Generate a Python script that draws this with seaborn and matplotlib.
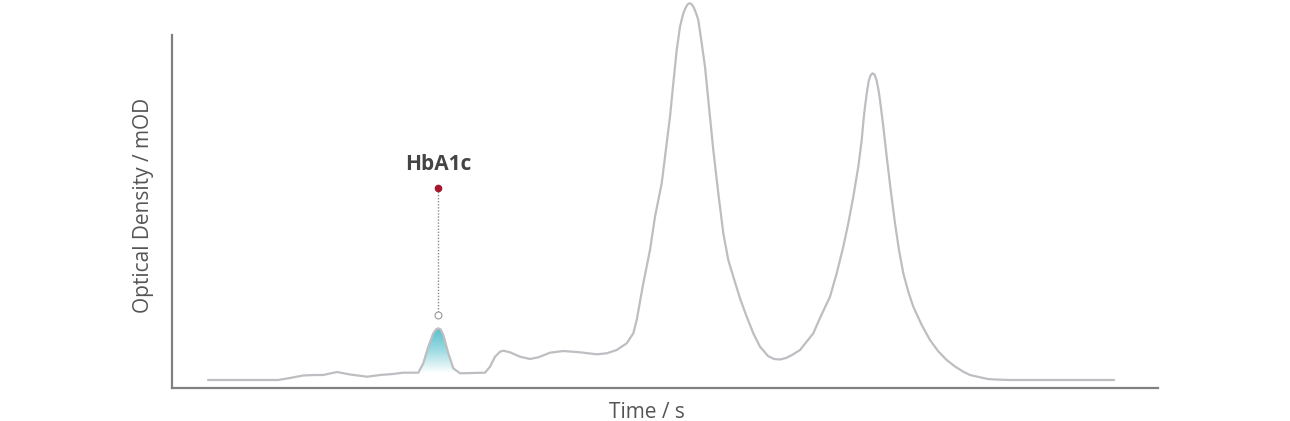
import numpy as np
import pandas as pd
import matplotlib
matplotlib.use("Agg")
import matplotlib.pyplot as plt
from matplotlib.colors import LinearSegmentedColormap
import seaborn as sns

# ── Données : chromatogramme (temps arbitraire, densité optique en mOD) ──
time = [208, 240, 278, 290, 303, 315, 323, 337, 350, 367, 380, 393, 403, 410,
        418.3, 423.3, 428.3, 433.3, 436, 438.3, 440.7, 443.3, 448.3, 453.3, 460,
        472, 485, 490, 495, 500, 503.3, 510, 520, 530, 538.3, 550, 563.3, 580,
        596.7, 606.7, 616.7, 626.7, 633.3, 636.7, 643.3, 650, 655, 661.7,
        666.7, 670, 673.3, 676.7, 680, 683.3, 685.5, 687.5, 689.5, 691.5,
        693.5, 696, 698.3, 701.7, 705, 709.3, 713.3, 718.3, 723.3, 728.3,
        733.3, 740, 746.7, 753.3, 760, 768, 774, 780, 786, 792, 800,
        813.3, 820, 830, 836.7, 843.3, 848.3, 853.3, 858.3, 861.7, 864,
        866.5, 868.5, 870.5, 872.5, 874.5, 876.5, 878.5, 880, 883.3, 886.7,
        890.7, 895, 899, 903.3, 908.3, 913.3, 921.7, 930, 938, 946.7,
        955, 963.3, 970, 980, 988, 995, 1010, 1114]
od = [8, 8, 8, 10, 12.5, 13, 13, 16, 13.5, 11.3, 13, 14, 15.3, 15.3,
      15.3, 24.7, 41.3, 54.7, 58.5, 59.7, 58.5, 53, 34.7, 19.7, 14.7,
      15, 15.3, 21.3, 31.3, 36.3, 37.3, 35.7, 31.3, 29, 30.7, 35.3, 37, 35.7,
      33.7, 34.7, 38, 44.7, 54.7, 68, 104.7, 138, 171.3, 204.7,
      244.7, 271.3, 304.7, 338, 361.3, 374.7, 380, 383.5, 384.7, 384,
      381, 375, 368, 344.7, 321.3, 278, 238, 194.7, 154.7, 128,
      111.3, 89.7, 71.3, 54.7, 41.3, 32, 29, 28.5, 30, 33, 38,
      54.7, 70, 91.3, 114.7, 141.3, 164.7, 191.3, 221.3, 248, 273,
      293, 306, 312.5, 314.7, 313.5, 308, 298, 288, 261.3, 231.3,
      198, 164.7, 138, 114.7, 96.3, 81.3, 63, 48, 37, 28,
      21.5, 16.3, 13, 10.7, 9, 8.5, 8, 8]

peak_name = "HbA1c"
peak_time = 438.3
peak_od = 59.7
label_od = 200        # position du point rouge
anchor_od = 73        # petit cercle au-dessus du pic
fill_start, fill_end = 418.3, 460

df = pd.DataFrame({"time": time, "od": od})

# ── Style ───────────────────────────────────────────────────
sns.set_style("white")
plt.rcParams["font.family"] = ["Open Sans", "DejaVu Sans"]

LINE_C = "#bdbec1"
AXIS_C = "#808080"
TEXT_C = "#555555"

fig = plt.figure(figsize=(12.9, 4.21), dpi=100)
ax = fig.add_axes([172 / 1290, 33 / 421, 986 / 1290, 388 / 421])

sns.lineplot(data=df, x="time", y="od", ax=ax, color=LINE_C, linewidth=1.6,
             sort=False, zorder=3)

# Remplissage en dégradé sous le pic HbA1c
sub = df[(df["time"] >= fill_start) & (df["time"] <= fill_end)]
poly = ax.fill_between(sub["time"], sub["od"], sub["od"].min(), color="none",
                       linewidth=0)
cmap = LinearSegmentedColormap.from_list("teal", ["#ffffff", "#9fdbe2", "#55c0cc"])
grad = np.linspace(0, 1, 256).reshape(-1, 1)
img = ax.imshow(grad, cmap=cmap, aspect="auto", origin="lower",
                extent=[fill_start, fill_end, sub["od"].min(), peak_od],
                zorder=2)
img.set_clip_path(poly.get_paths()[0], transform=ax.transData)

# Annotation HbA1c
ax.plot([peak_time, peak_time], [anchor_od, label_od], color="#8a8a8a",
        linestyle=(0, (1, 1.2)), linewidth=1, zorder=4)
ax.plot(peak_time, label_od, "o", color="#a5172d", markersize=4.5, zorder=5)
ax.plot(peak_time, anchor_od, "o", mfc="white", mec="#9a9a9a", mew=0.8,
        markersize=5, zorder=5)
ax.text(peak_time, label_od + 23, peak_name, ha="center", va="center",
        fontsize=15, fontweight="bold", color="#444444")

# Axes
ax.set_xlim(172, 1158)
ax.set_ylim(0, 388)
ax.set_xticks([])
ax.set_yticks([])
for side in ["top", "right"]:
    ax.spines[side].set_visible(False)
for side in ["left", "bottom"]:
    ax.spines[side].set_color(AXIS_C)
    ax.spines[side].set_linewidth(1.6)
ax.spines["left"].set_bounds(0, 353)

ax.set_xlabel("Time / s", fontsize=15, color=TEXT_C)
ax.xaxis.label.set_va("center")
ax.xaxis.set_label_coords(0.4817, -0.062)
ax.set_ylabel("Optical Density / mOD", fontsize=15, color=TEXT_C)
ax.yaxis.label.set_va("center")
ax.yaxis.set_label_coords(-0.0294, 0.47)

fig.savefig("out.png", dpi=100)
